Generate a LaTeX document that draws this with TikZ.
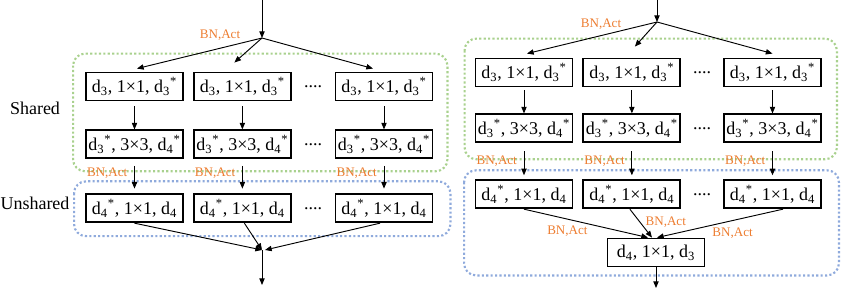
\documentclass[tikz,border=0pt]{standalone}
\usepackage{fontspec}
\setmainfont{Liberation Serif}
\usetikzlibrary{calc, positioning, arrows.meta}
\definecolor{actOrange}{RGB}{237,125,49}
\definecolor{sharedGreen}{RGB}{169,209,142}
\definecolor{unsharedBlue}{RGB}{143,170,220}
\newcommand{\dsb}[1]{d\textsubscript{#1}}
\newcommand{\dst}[1]{d\textsubscript{#1}\textsuperscript{*}}

\begin{document}
\begin{tikzpicture}[
  x=0.75pt, y=-0.75pt,
  font=\fontsize{13.5}{15}\selectfont,
  node distance=6.75pt,
  convbox/.style={draw, line width=1.4pt, minimum width=72.75pt, minimum height=21pt, inner sep=0pt},
  convedge/.style={-{Triangle[length=5pt,width=4pt]}, line width=0.7pt},
  bnlab/.style={font=\fontsize{9.8}{11}\selectfont, text=actOrange, inner sep=1pt},
  sharedgrp/.style={draw=sharedGreen, line width=1.6pt, dash pattern=on 1.6pt off 1.7pt, rounded corners=9pt},
  unsharedgrp/.style={draw=unsharedBlue, line width=1.6pt, dash pattern=on 1.6pt off 1.7pt, rounded corners=9pt},
  grplab/.style={font=\fontsize{13.5}{15}\selectfont}
]
\useasboundingbox (0,0) rectangle (843,294);

% Left: shared 1x1 / 3x3, unshared 1x1 per branch
\coordinate (inL) at (262,0);
\coordinate (brL) at (262,38);
\node[convbox] (b11) at (134.5,86.5) {\dsb{3}, 1×1, \dst{3}};
\node[convbox, right=of b11] (b12) {\dsb{3}, 1×1, \dst{3}};
\node[convbox] (b13) at (384,86.5) {\dsb{3}, 1×1, \dst{3}};
\node[convbox, below=21pt of b11] (b21) {\dst{3}, 3×3, \dst{4}};
\node[convbox, below=21pt of b12] (b22) {\dst{3}, 3×3, \dst{4}};
\node[convbox, below=21pt of b13] (b23) {\dst{3}, 3×3, \dst{4}};
\node[convbox, below=25.5pt of b21] (b31) {\dst{4}, 1×1, \dsb{4}};
\node[convbox, below=25.5pt of b22] (b32) {\dst{4}, 1×1, \dsb{4}};
\node[convbox, below=25.5pt of b23] (b33) {\dst{4}, 1×1, \dsb{4}};
\node at ($(b12.east)!0.5!(b13.west)$) (dl1) {....};
\node at ($(b22.east)!0.5!(b23.west)$) (dl2) {....};
\node at ($(b32.east)!0.5!(b33.west)$) (dl3) {....};
\coordinate (mergeL) at (262,250);
\coordinate (outL) at (262,285);

\draw[sharedgrp] ([shift={(-12,-18)}]b11.north west) rectangle ([shift={(14,12)}]b23.south east);
\draw[unsharedgrp] ([shift={(-11,-12)}]b31.north west) rectangle ([shift={(17,13)}]b33.south east);
\node[grplab] (shr) at (35,108) {Shared};
\node[grplab] (unshr) at (35,203) {Unshared};
\node[bnlab] (bnL) at (220,35) {BN,Act};

\draw[convedge] (inL) -- (brL);
\draw[convedge] (brL) -- ([shift={(2.5,-3)}]b11.north);
\draw[convedge] (brL) -- ([shift={(-8,-9)}]b12.north);
\draw[convedge] (brL) -- ([shift={(-11,-3)}]b13.north);
\foreach \c in {1,2,3}{
  \draw[convedge, shorten <=3.5pt] (b1\c) -- (b2\c);
  \draw[convedge, shorten <=5pt, shorten >=3.5pt] (b2\c) -- node[bnlab, left=4pt, pos=0.4] {BN,Act} (b3\c);
}
\draw[convedge] (b31.south) -- (mergeL);
\draw[convedge] ([shift={(2,0)}]b32.south) -- (mergeL);
\draw[convedge] ([shift={(-4,0)}]b33.south) -- ([shift={(3,0)}]mergeL);
\draw[convedge] (mergeL) -- (outL);

% Right: shared 1x1 / 3x3, unshared 1x1, then one 1x1 back to d3
\coordinate (inR) at (657,0);
\coordinate (brR) at (657,22);
\node[convbox] (r11) at (524,72.5) {\dsb{3}, 1×1, \dst{3}};
\node[convbox, right=of r11] (r12) {\dsb{3}, 1×1, \dst{3}};
\node[convbox] (r13) at (772.5,72.5) {\dsb{3}, 1×1, \dst{3}};
\node[convbox, below=19.5pt of r11] (r21) {\dst{3}, 3×3, \dst{4}};
\node[convbox, below=19.5pt of r12] (r22) {\dst{3}, 3×3, \dst{4}};
\node[convbox, below=19.5pt of r13] (r23) {\dst{3}, 3×3, \dst{4}};
\node[convbox, below=27pt of r21] (r31) {\dst{4}, 1×1, \dsb{4}};
\node[convbox, below=27pt of r22] (r32) {\dst{4}, 1×1, \dsb{4}};
\node[convbox, below=27pt of r23] (r33) {\dst{4}, 1×1, \dsb{4}};
\node at ($(r12.east)!0.5!(r13.west)$) (rdl1) {....};
\node at ($(r22.east)!0.5!(r23.west)$) (rdl2) {....};
\node at ($(r32.east)!0.5!(r33.west)$) (rdl3) {....};
\node[convbox] (fin) at (656,252.5) {\dsb{4}, 1×1, \dsb{3}};
\coordinate (outR) at (656,288);

\draw[sharedgrp] ([shift={(-10,-19)}]r11.north west) rectangle ([shift={(15,16)}]r23.south east);
\draw[unsharedgrp] ([shift={(-10.5,-9)}]r31.north west) rectangle ($(r33.south east |- fin.south)+(17,8)$);
\node[bnlab] (bnR) at (601,24) {BN,Act};

\draw[convedge] (inR) -- (brR);
\draw[convedge] (brR) -- ([shift={(3,-4)}]r11.north);
\draw[convedge] (brR) -- ([shift={(3,-11)}]r12.north);
\draw[convedge] (brR) -- ([shift={(0,-4)}]r13.north);
\foreach \c in {1,2,3}{
  \draw[convedge, shorten <=2pt] (r1\c) -- (r2\c);
  \draw[convedge, shorten <=6pt, shorten >=3pt] (r2\c) -- node[bnlab, left=4pt, pos=0.5] {BN,Act} (r3\c);
}
\draw[convedge] (r31.south) -- node[bnlab, below=4pt, pos=0.35] {BN,Act} ([shift={(-8,0)}]fin.north);
\draw[convedge] ([shift={(-2,0)}]r32.south) -- node[bnlab, right=3pt, pos=0.45] {BN,Act} ([shift={(-4,0)}]fin.north);
\draw[convedge] ([shift={(10.5,0)}]r33.south) -- node[bnlab, below=4pt, pos=0.4] {BN,Act} ([shift={(1,0)}]fin.north);
\draw[convedge] (fin) -- (outR);
\end{tikzpicture}
\end{document}
